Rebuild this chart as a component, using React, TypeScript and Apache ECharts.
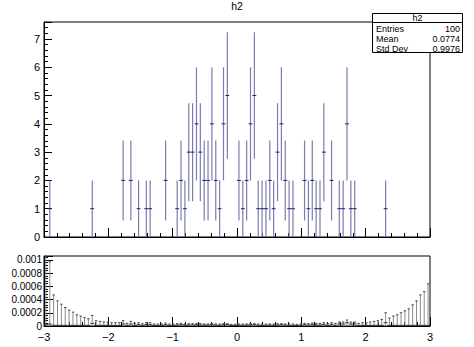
import React, { useEffect, useRef } from "react";
import * as echarts from "echarts";

// Histogram definition
const X_MIN = -3;
const X_MAX = 3;
const BIN_WIDTH = 0.06;

// Upper pad: non-empty bins of h2 (bin index, entries)
const mainBins = [1, 12, 20, 22, 24, 26, 27, 31, 34, 35, 36, 37, 38, 39, 40, 41, 42, 43, 44, 45, 46, 47, 50, 51, 52, 53, 54, 55, 56, 57, 58, 59, 60, 61, 62, 63, 64, 67, 68, 69, 70, 71, 72, 74, 76, 77, 78, 79, 80, 88];
const mainCounts = [1, 1, 2, 2, 1, 1, 1, 2, 1, 2, 1, 3, 3, 4, 3, 2, 2, 4, 2, 1, 4, 5, 2, 1, 2, 4, 5, 1, 1, 1, 2, 1, 3, 4, 2, 1, 1, 2, 1, 2, 1, 1, 3, 2, 1, 1, 4, 1, 1, 1];

// Lower pad: per-bin value and top of error bar (units of 1e-4)
const LOWER_UNIT = 1e-4;
const lowerValue = [
  0.2, 0.3, 0.1, 0.1, 0.1, 0.1, 0.1, 0.1, 0.1, 0.1,
  0.1, 0.1, 0.4, 0.1, 0.1, 0.1, 0.1, 0.1, 0.1, 0.1,
  0.3, 0.1, 0.3, 0.1, 0.2, 0.1, 0.2, 0.2, 0.1, 0.1,
  0.1, 0.2, 0.1, 0.1, 0.15, 0.2, 0.15, 0.15, 0.15, 0.2,
  0.15, 0.15, 0.15, 0.2, 0.15, 0.1, 0.2, 0.2, 0.1, 0.1,
  0.15, 0.1, 0.15, 0.2, 0.2, 0.1, 0.1, 0.1, 0.15, 0.1,
  0.15, 0.2, 0.15, 0.1, 0.1, 0.1, 0.1, 0.2, 0.15, 0.2,
  0.15, 0.15, 0.25, 0.1, 0.25, 0.1, 0.3, 0.3, 0.5, 0.3,
  0.3, 0.1, 0.1, 0.1, 0.1, 0.1, 0.1, 0.1, 0.5, 0.1,
  0.1, 0.1, 0.1, 0.1, 0.1, 0.1, 0.1, 0.1, 0.1, 0.1,
];
const lowerTop = [
  10.5, 9.7, 4.7, 3.8, 3.3, 2.8, 2.4, 2.1, 1.7, 1.5,
  1.3, 1.1, 1.6, 0.8, 0.7, 0.6, 0.6, 0.5, 0.5, 0.5,
  0.8, 0.4, 0.7, 0.4, 0.5, 0.35, 0.5, 0.5, 0.3, 0.3,
  0.3, 0.45, 0.3, 0.3, 0.35, 0.4, 0.3, 0.35, 0.35, 0.35,
  0.35, 0.3, 0.3, 0.35, 0.3, 0.3, 0.35, 0.35, 0.25, 0.25,
  0.3, 0.3, 0.3, 0.35, 0.35, 0.3, 0.3, 0.3, 0.3, 0.3,
  0.35, 0.35, 0.3, 0.3, 0.3, 0.25, 0.3, 0.4, 0.35, 0.45,
  0.4, 0.4, 0.5, 0.35, 0.5, 0.4, 0.6, 0.6, 0.9, 0.6,
  0.6, 0.4, 0.5, 0.5, 0.6, 0.7, 0.8, 1.0, 2.0, 1.2,
  1.5, 1.7, 2.0, 2.3, 2.6, 3.2, 3.8, 4.7, 5.2, 6.4,
];

// Axis ranges and stats
const upperMax = 7.6;
const lowerMax = 0.00106;
const statsRows = [
  ["Entries", "100"],
  ["Mean", "0.0774"],
  ["Std Dev", "0.9976"],
];

const FONT = "Liberation Sans, Arial, Helvetica, sans-serif";
const HIST_MARK = "#1c1c7a";
const HIST_BAR = "#7c7cae";
const LOWER_COLOR = "#8a8a8a";

const binCenter = (i: number) => X_MIN + (i + 0.5) * BIN_WIDTH;

export default function App() {
  const ref = useRef<HTMLDivElement>(null);

  useEffect(() => {
    if (!ref.current) return;
    const chart = echarts.init(ref.current, undefined, { renderer: "svg" });

    const mainData = mainBins.map((b, k) => [binCenter(b), mainCounts[k]]);
    const lowerData = lowerTop.map((t, i) => [
      binCenter(i),
      lowerValue[i] * LOWER_UNIT,
      t * LOWER_UNIT,
    ]);

    const axisBase = {
      type: "value" as const,
      axisLine: { show: true, onZero: false, lineStyle: { color: "#000", width: 1 } },
      splitLine: { show: false },
    };

    const option: any = {
      animation: false,
      backgroundColor: "#fff",
      grid: [
        { left: 44, top: 22, width: 386, height: 215, show: true, borderColor: "#000", borderWidth: 1, backgroundColor: "transparent" },
        { left: 44, top: 256, width: 386, height: 70, show: true, borderColor: "#000", borderWidth: 1, backgroundColor: "transparent" },
      ],
      xAxis: [
        {
          ...axisBase,
          gridIndex: 0,
          min: X_MIN,
          max: X_MAX,
          interval: 1,
          axisTick: { show: true, inside: true, length: 9, lineStyle: { color: "#000" } },
          minorTick: { show: true, splitNumber: 5, length: 4, lineStyle: { color: "#000" } },
          axisLabel: { show: false },
        },
        {
          ...axisBase,
          gridIndex: 1,
          min: X_MIN,
          max: X_MAX,
          interval: 1,
          axisTick: { show: true, inside: true, length: 9, lineStyle: { color: "#000" } },
          minorTick: { show: true, splitNumber: 5, length: 4, lineStyle: { color: "#000" } },
          axisLabel: {
            show: true,
            margin: 5,
            fontSize: 11,
            fontFamily: FONT,
            color: "#000",
            formatter: (v: number) => (v < 0 ? "\u2212" + Math.abs(v) : String(v)),
          },
        },
      ],
      yAxis: [
        {
          ...axisBase,
          gridIndex: 0,
          min: 0,
          max: upperMax,
          interval: 1,
          axisTick: { show: true, inside: true, length: 8, lineStyle: { color: "#000" } },
          minorTick: { show: true, splitNumber: 5, length: 4, lineStyle: { color: "#000" } },
          axisLabel: { show: true, margin: 4, fontSize: 11, fontFamily: FONT, color: "#000", showMaxLabel: false },
        },
        {
          ...axisBase,
          gridIndex: 1,
          min: 0,
          max: lowerMax,
          interval: 0.0002,
          axisTick: { show: true, inside: true, length: 9, lineStyle: { color: "#000" } },
          minorTick: { show: true, splitNumber: 5, length: 4, lineStyle: { color: "#000" } },
          axisLabel: {
            show: true,
            margin: 2,
            fontSize: 10,
            fontFamily: FONT,
            color: "#000",
            showMaxLabel: false,
            formatter: (v: number) => String(+v.toFixed(4)),
          },
        },
      ],
      series: [
        {
          type: "custom",
          xAxisIndex: 0,
          yAxisIndex: 0,
          clip: true,
          data: mainData,
          renderItem: (params: any, api: any) => {
            const x = api.value(0);
            const n = api.value(1);
            const e = Math.sqrt(n);
            const hw = api.size([BIN_WIDTH, 0])[0] / 2;
            const pc = api.coord([x, n]);
            const pl = api.coord([x, Math.max(0, n - e)]);
            const ph = api.coord([x, n + e]);
            return {
              type: "group",
              children: [
                { type: "line", shape: { x1: pc[0], y1: pl[1], x2: pc[0], y2: ph[1] }, style: { stroke: HIST_BAR, lineWidth: 1.2 } },
                { type: "line", shape: { x1: pc[0] - hw, y1: pc[1], x2: pc[0] + hw, y2: pc[1] }, style: { stroke: HIST_MARK, lineWidth: 1 } },
              ],
            };
          },
        },
        {
          type: "custom",
          xAxisIndex: 1,
          yAxisIndex: 1,
          clip: true,
          data: lowerData,
          renderItem: (params: any, api: any) => {
            const x = api.value(0);
            const v = api.value(1);
            const top = api.value(2);
            const hw = api.size([BIN_WIDTH, 0])[0] / 2;
            const pc = api.coord([x, v]);
            const pb = api.coord([x, Math.max(0, 2 * v - top)]);
            const pt = api.coord([x, Math.min(top, lowerMax)]);
            const children: any[] = [
              { type: "line", shape: { x1: pc[0], y1: pb[1], x2: pc[0], y2: pt[1] }, style: { stroke: LOWER_COLOR, lineWidth: 1 } },
              { type: "line", shape: { x1: pc[0] - hw, y1: pc[1], x2: pc[0] + hw, y2: pc[1] }, style: { stroke: "#333", lineWidth: 1 } },
            ];
            if (top < lowerMax) {
              children.push({ type: "line", shape: { x1: pc[0] - 1.2, y1: pt[1], x2: pc[0] + 1.2, y2: pt[1] }, style: { stroke: "#444", lineWidth: 1 } });
            }
            return { type: "group", children };
          },
        },
      ],
      graphic: [
        {
          type: "text",
          x: 237,
          y: 6,
          z: 100,
          style: { text: "h2", font: `10.5px ${FONT}`, fill: "#000", align: "center", verticalAlign: "middle" },
        },
        {
          type: "rect",
          z: 100,
          shape: { x: 372.5, y: 13.5, width: 90, height: 39 },
          style: { fill: "#fff", stroke: "#000", lineWidth: 1 },
        },
        {
          type: "line",
          z: 101,
          shape: { x1: 372.5, y1: 22.5, x2: 462.5, y2: 22.5 },
          style: { stroke: "#000", lineWidth: 1 },
        },
        {
          type: "text",
          x: 417.5,
          y: 18,
          z: 101,
          style: { text: "h2", font: `9px ${FONT}`, fill: "#000", align: "center", verticalAlign: "middle" },
        },
        ...statsRows.flatMap((row, k) => [
          {
            type: "text",
            x: 376,
            y: 28.5 + k * 10,
            z: 101,
            style: { text: row[0], font: `9px ${FONT}`, fill: "#000", align: "left", verticalAlign: "middle" },
          },
          {
            type: "text",
            x: 460,
            y: 28.5 + k * 10,
            z: 101,
            style: { text: row[1], font: `9px ${FONT}`, fill: "#000", align: "right", verticalAlign: "middle" },
          },
        ]),
      ],
    };

    chart.setOption(option);
    return () => chart.dispose();
  }, []);

  return (
    <div
      ref={ref}
      style={{ position: "fixed", left: 0, top: 0, width: 474, height: 347, background: "#fff" }}
    />
  );
}
